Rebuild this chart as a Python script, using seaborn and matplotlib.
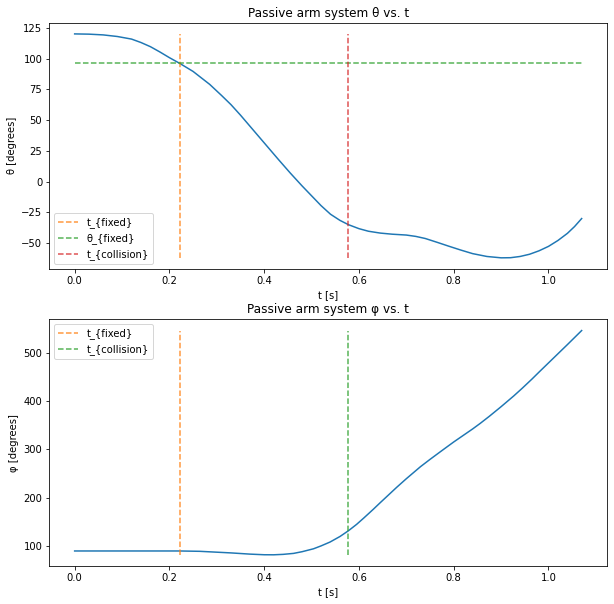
import matplotlib
matplotlib.use("Agg")
import matplotlib.pyplot as plt
import seaborn as sns

# ---- data ----
t_theta = [0.00, 0.03, 0.06, 0.09, 0.12, 0.14, 0.16, 0.18, 0.20, 0.222, 0.25, 0.285,
           0.31, 0.33, 0.35, 0.37, 0.39, 0.41, 0.43, 0.455, 0.48, 0.50, 0.52, 0.54,
           0.56, 0.578, 0.60, 0.62, 0.645, 0.67, 0.70, 0.72, 0.74, 0.765, 0.79,
           0.815, 0.84, 0.87, 0.90, 0.92, 0.94, 0.96, 0.98, 1.00, 1.02, 1.04,
           1.055, 1.07]
theta = [120.0, 119.8, 119.2, 117.9, 115.8, 113.0, 109.6, 105.3, 100.7, 96.0, 89.5, 79.0,
         70.0, 62.5, 54.0, 45.0, 36.0, 27.0, 18.0, 7.0, -3.5, -11.5, -19.5, -26.5,
         -31.5, -35.0, -38.2, -40.3, -41.8, -42.7, -43.4, -44.5, -46.2, -49.3, -52.5,
         -55.6, -58.5, -60.8, -61.9, -61.8, -60.8, -59.0, -56.2, -52.6, -47.8, -42.0,
         -36.5, -30.0]

t_phi = [0.00, 0.10, 0.20, 0.222, 0.264, 0.30, 0.33, 0.37, 0.40, 0.42, 0.44, 0.462,
         0.48, 0.49, 0.504, 0.52, 0.539, 0.56, 0.578, 0.595, 0.61, 0.63, 0.645,
         0.68, 0.70, 0.715, 0.73, 0.75, 0.77, 0.786, 0.80, 0.82, 0.84, 0.856, 0.875,
         0.90, 0.927, 0.945, 0.965, 0.98, 1.00, 1.02, 1.04, 1.055, 1.07]
phi = [90.0, 90.0, 90.0, 90.0, 89.3, 87.5, 86.0, 83.5, 82.2, 82.1, 83.0, 85.0,
       88.5, 91.0, 94.5, 100.5, 108.5, 120.0, 132.0, 145.0, 158.0, 176.0, 190.0,
       222.0, 239.5, 252.0, 264.5, 279.5, 294.0, 305.5, 315.5, 329.0, 342.5, 354.0, 368.5,
       388.5, 411.0, 427.0, 445.5, 460.0, 479.0, 498.0, 517.0, 531.5, 546.0]

t_fixed = 0.222
t_collision = 0.577
theta_fixed = 96.0

labels_top = ["t_{fixed}", "θ_{fixed}", "t_{collision}"]
labels_bottom = ["t_{fixed}", "t_{collision}"]

# ---- figure ----
DPI = 72
fig = plt.figure(figsize=(614 / DPI, 604 / DPI), dpi=DPI)
ax1 = fig.add_axes([0.0803, 0.5546, 0.9083, 0.4078])
ax2 = fig.add_axes([0.0803, 0.0629, 0.9083, 0.4084])

# top: theta
sns.lineplot(x=t_theta, y=theta, ax=ax1, color="C0", linewidth=1.5)
ax1.vlines(t_fixed, min(theta), max(theta), colors="C1", linestyles="--",
           alpha=0.8, linewidth=1.5, label=labels_top[0])
ax1.hlines(theta_fixed, t_theta[0], t_theta[-1], colors="C2", linestyles="--",
           alpha=0.8, linewidth=1.5, label=labels_top[1])
ax1.vlines(t_collision, min(theta), max(theta), colors="C3", linestyles="--",
           alpha=0.8, linewidth=1.5, label=labels_top[2])
ax1.set_title("Passive arm system θ vs. t")
ax1.set_xlabel("t [s]")
ax1.set_ylabel("θ [degrees]")
ax1.legend(loc="lower left")

# bottom: phi
sns.lineplot(x=t_phi, y=phi, ax=ax2, color="C0", linewidth=1.5)
ax2.vlines(t_fixed, min(phi), max(phi), colors="C1", linestyles="--",
           alpha=0.8, linewidth=1.5, label=labels_bottom[0])
ax2.vlines(t_collision, min(phi), max(phi), colors="C2", linestyles="--",
           alpha=0.8, linewidth=1.5, label=labels_bottom[1])
ax2.set_title("Passive arm system φ vs. t")
ax2.set_xlabel("t [s]")
ax2.set_ylabel("φ [degrees]")
ax2.legend(loc="upper left")

fig.savefig("out.png", dpi=DPI)
